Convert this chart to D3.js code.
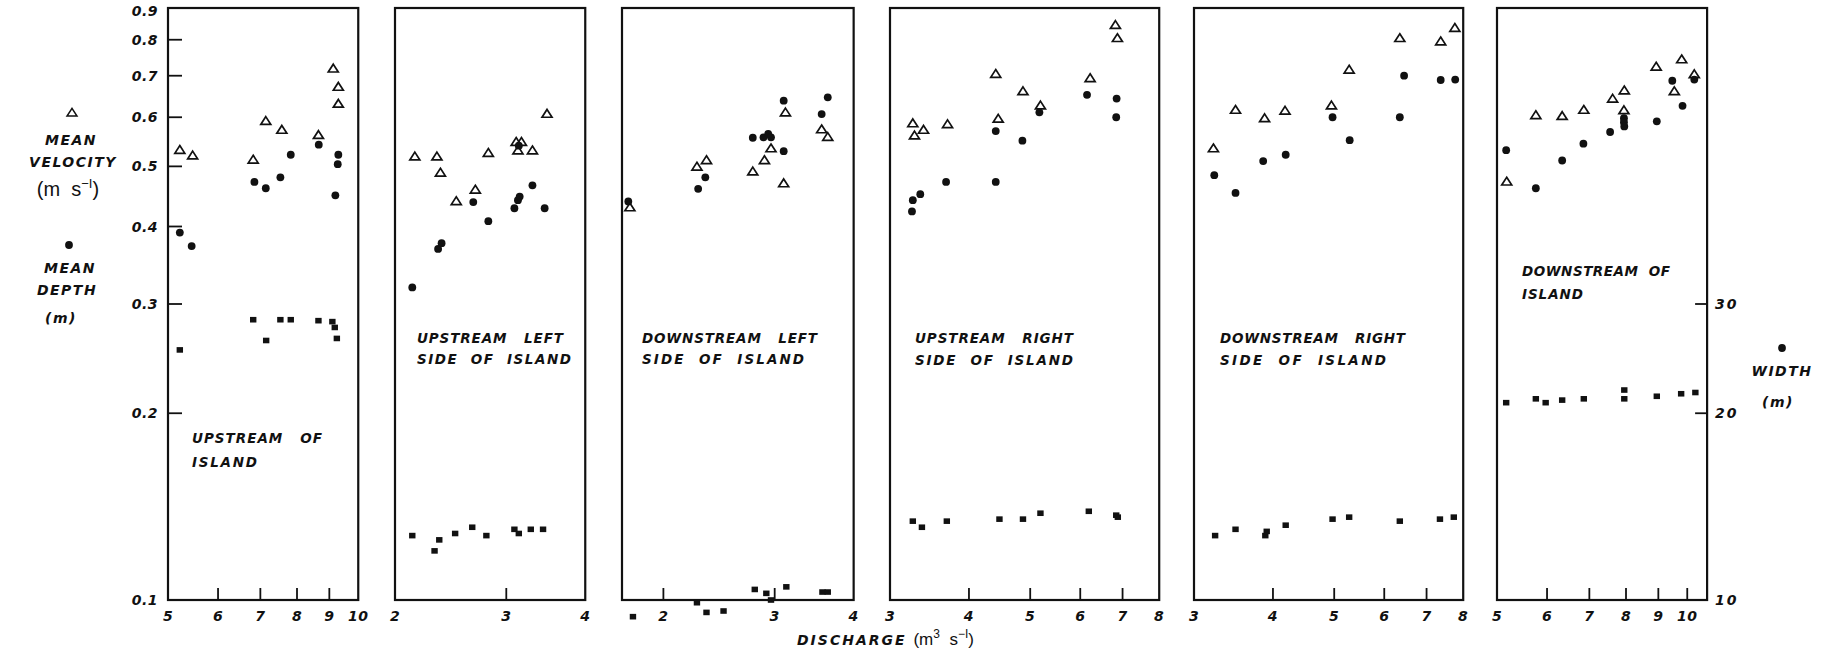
<!DOCTYPE html>
<html>
<head>
<meta charset="utf-8">
<script src="https://cdn.jsdelivr.net/npm/d3@7"></script>
<style>
  body { margin: 0; background: #fff; }
  svg { display: block; }
  text { font-family: "Liberation Sans", Arial, sans-serif; fill: #111; white-space: pre; }
  .lett { font-family: "DejaVu Sans", sans-serif; font-weight: bold; font-style: italic; }
</style>
</head>
<body>
<svg id="chart" width="1842" height="648"></svg>
<script>
// [discharge, value] pairs; width in m
const usVel = [[5.22,0.531],[5.47,0.520],[6.82,0.512],[7.14,0.591],[7.57,0.572],[8.65,0.561],[9.13,0.718],[9.30,0.671],[9.30,0.630]];
const usDep = [[5.22,0.391],[5.45,0.372],[6.85,0.472],[7.14,0.461],[7.53,0.480],[7.82,0.522],[8.66,0.542],[9.30,0.522],[9.28,0.504],[9.20,0.449]];
const usWid = [[5.22,25.3],[6.82,28.3],[7.15,26.2],[7.53,28.3],[7.82,28.3],[8.65,28.2],[9.10,28.1],[9.18,27.5],[9.25,26.4]];

const ulVel = [[2.15,0.518],[2.33,0.518],[2.36,0.488],[2.50,0.439],[2.68,0.458],[2.81,0.525],[3.11,0.547],[3.17,0.547],[3.13,0.530],[3.30,0.530],[3.48,0.607]];
const ulDep = [[2.13,0.319],[2.34,0.368],[2.37,0.376],[2.66,0.438],[2.81,0.408],[3.09,0.428],[3.13,0.441],[3.15,0.447],[3.30,0.466],[3.45,0.428],[3.14,0.540]];
const ulWid = [[2.13,12.7],[2.31,12.0],[2.35,12.5],[2.49,12.8],[2.65,13.1],[2.79,12.7],[3.09,13.0],[3.14,12.8],[3.28,13.0],[3.43,13.0]];

const dlVel = [[1.77,0.429],[2.26,0.499],[2.34,0.511],[2.77,0.490],[2.89,0.511],[2.96,0.534],[3.12,0.610],[3.10,0.469],[3.56,0.573],[3.64,0.557]];
const dlDep = [[1.76,0.439],[2.27,0.460],[2.33,0.480],[2.77,0.556],[2.88,0.557],[2.93,0.564],[2.96,0.557],[3.10,0.638],[3.10,0.529],[3.56,0.607],[3.64,0.646]];
const dlWid = [[1.79,9.4],[2.26,9.9],[2.34,9.55],[2.49,9.6],[2.79,10.4],[2.91,10.25],[2.96,10.0],[3.13,10.5],[3.57,10.3],[3.64,10.3]];

const urVel = [[3.26,0.586],[3.28,0.560],[3.39,0.572],[3.70,0.584],[4.41,0.704],[4.45,0.596],[4.87,0.660],[5.19,0.626],[6.22,0.693],[6.82,0.844],[6.87,0.804]];
const urDep = [[3.25,0.423],[3.26,0.441],[3.35,0.451],[3.68,0.472],[4.41,0.472],[4.41,0.570],[4.86,0.550],[5.17,0.611],[6.15,0.652],[6.85,0.643],[6.84,0.600]];
const urWid = [[3.26,13.4],[3.37,13.1],[3.69,13.4],[4.47,13.5],[4.87,13.5],[5.19,13.8],[6.19,13.9],[6.84,13.7],[6.88,13.6]];

const drVel = [[3.22,0.534],[3.49,0.616],[3.88,0.597],[4.18,0.614],[4.95,0.626],[5.28,0.715],[6.35,0.804],[7.37,0.794],[7.76,0.835]];
const drDep = [[3.23,0.484],[3.49,0.453],[3.86,0.510],[4.19,0.522],[4.97,0.600],[5.29,0.551],[6.35,0.600],[6.45,0.700],[7.37,0.689],[7.77,0.690]];
const drWid = [[3.24,12.7],[3.49,13.0],[3.89,12.7],[3.91,12.9],[4.19,13.2],[4.97,13.5],[5.28,13.6],[6.35,13.4],[7.35,13.5],[7.73,13.6]];

const dsVel = [[5.18,0.472],[5.76,0.604],[6.34,0.602],[6.86,0.616],[7.62,0.642],[7.95,0.662],[7.94,0.615],[8.93,0.723],[9.80,0.743],[9.54,0.660],[10.26,0.703]];
const dsDep = [[5.17,0.531],[5.76,0.461],[6.34,0.511],[6.85,0.544],[7.55,0.568],[7.94,0.598],[7.94,0.589],[7.95,0.580],[8.95,0.591],[9.47,0.687],[9.83,0.626],[10.26,0.690]];
const dsWid = [[5.17,20.8],[5.76,21.1],[5.97,20.8],[6.34,21.0],[6.86,21.1],[7.95,21.8],[7.95,21.1],[8.95,21.3],[9.78,21.5],[10.3,21.6]];

const panelTitles = [
  ["UPSTREAM   OF", "ISLAND"],
  ["UPSTREAM   LEFT", "SIDE  OF  ISLAND"],
  ["DOWNSTREAM   LEFT", "SIDE  OF  ISLAND"],
  ["UPSTREAM   RIGHT", "SIDE  OF  ISLAND"],
  ["DOWNSTREAM   RIGHT", "SIDE  OF  ISLAND"],
  ["DOWNSTREAM  OF", "ISLAND"]
];
const xDomains = [[5, 10], [2, 4], [1.72, 4], [3, 8], [3, 8], [5, 10.75]];
const xTicks = [[5,6,7,8,9,10], [2,3,4], [2,3,4], [3,4,5,6,7,8], [3,4,5,6,7,8], [5,6,7,8,9,10]];
const yTicks = [0.1,0.2,0.3,0.4,0.5,0.6,0.7,0.8,0.9];
const widthTicks = [10, 20, 30];

const velSets = [usVel, ulVel, dlVel, urVel, drVel, dsVel];
const depSets = [usDep, ulDep, dlDep, urDep, drDep, dsDep];
const widSets = [usWid, ulWid, dlWid, urWid, drWid, dsWid];

// layout
const yTop = 8, yBottom = 600;
const decade = 632; // px per log decade along x
const panelLeft = [168, 395, 622, 890, 1194, 1497];
const titleBox = [
  { x: 192, y: [443, 467], len: [130, 65] },
  { x: 417, y: [343, 364], len: [146, 154] },
  { x: 642, y: [343, 364], len: [175, 162] },
  { x: 915, y: [343, 365], len: [158, 158] },
  { x: 1220, y: [343, 365], len: [185, 166] },
  { x: 1522, y: [276, 299], len: [148, 61] }
];

const svg = d3.select("#chart");
const y = d3.scaleLog().domain([0.1, 0.9]).range([yBottom, yTop]);
const yW = d3.scaleLog().domain([10, 90]).range([yBottom, yTop]);

// open triangle, a bit wider than tall like the drafted ones
const wideTri = {
  draw(ctx, size) {
    const w = Math.sqrt(size), h = w * 0.78;
    ctx.moveTo(0, -h * 0.6);
    ctx.lineTo(w / 2, h * 0.4);
    ctx.lineTo(-w / 2, h * 0.4);
    ctx.closePath();
  }
};
const triPath = d3.symbol(wideTri, 100)();

const panels = xDomains.map((dom, i) => {
    const left = panelLeft[i];
    const right = left + decade * Math.log10(dom[1] / dom[0]);
    return { i, x: d3.scaleLog().domain(dom).range([left, right]), left, right };
});

panels.forEach((p) => {
    const g = svg.append("g");
    // frame
    g.append("rect")
        .attr("x", p.left).attr("y", yTop)
        .attr("width", p.right - p.left).attr("height", yBottom - yTop)
        .attr("fill", "none").attr("stroke", "#111").attr("stroke-width", 2.2);
    // bottom ticks, drawn inward
    const ticks = xTicks[p.i];
    g.selectAll("line.xt")
        .data(ticks.filter((t) => t > xDomains[p.i][0] && t < xDomains[p.i][1]))
        .join("line")
        .attr("x1", (d) => p.x(d)).attr("x2", (d) => p.x(d))
        .attr("y1", yBottom).attr("y2", yBottom - 12)
        .attr("stroke", "#111").attr("stroke-width", 1.8);
    g.selectAll("text.xl")
        .data(ticks)
        .join("text")
        .attr("class", "lett")
        .attr("x", (d) => p.x(d))
        .attr("y", 621)
        .attr("text-anchor", "middle")
        .style("font-size", "14px")
        .style("letter-spacing", "0.5px")
        .text((d) => d);
    // panel title
    const tb = titleBox[p.i];
    panelTitles[p.i].forEach((line, k) => {
        g.append("text")
            .attr("class", "lett")
            .attr("x", tb.x).attr("y", tb.y[k])
            .attr("textLength", tb.len[k])
            .attr("lengthAdjust", "spacing")
            .style("font-size", "13.5px")
            .text(line);
    });
    // width (squares)
    g.selectAll("rect.w")
        .data(widSets[p.i])
        .join("rect")
        .attr("x", (d) => p.x(d[0]) - 3.2)
        .attr("y", (d) => yW(d[1]) - 2.8)
        .attr("width", 6.4).attr("height", 5.6)
        .attr("fill", "#111");
    // velocity (open triangles)
    g.selectAll("path.v")
        .data(velSets[p.i])
        .join("path")
        .attr("d", triPath)
        .attr("transform", (d) => `translate(${p.x(d[0])},${y(d[1])})`)
        .attr("fill", "none").attr("stroke", "#111").attr("stroke-width", 1.7);
    // depth (dots)
    g.selectAll("circle.d")
        .data(depSets[p.i])
        .join("circle")
        .attr("cx", (d) => p.x(d[0]))
        .attr("cy", (d) => y(d[1]))
        .attr("r", 3.9)
        .attr("fill", "#111");
});

// left axis: velocity / depth
const p0 = panels[0];
svg.append("g").selectAll("line")
    .data(yTicks.slice(1, -1))
    .join("line")
    .attr("x1", p0.left).attr("x2", p0.left + 14)
    .attr("y1", (d) => y(d)).attr("y2", (d) => y(d))
    .attr("stroke", "#111").attr("stroke-width", 1.8);
svg.append("g").selectAll("text")
    .data(yTicks)
    .join("text")
    .attr("class", "lett")
    .attr("x", 158)
    .attr("y", (d) => Math.max(y(d), 11))
    .attr("dy", "0.36em")
    .attr("text-anchor", "end")
    .style("font-size", "14px")
    .style("letter-spacing", "0.5px")
    .text((d) => d3.format(".1f")(d));

// right axis: width
const p5 = panels[5];
svg.append("g").selectAll("line")
    .data(widthTicks)
    .join("line")
    .attr("x1", p5.right - 12).attr("x2", p5.right)
    .attr("y1", (d) => yW(d)).attr("y2", (d) => yW(d))
    .attr("stroke", "#111").attr("stroke-width", 1.8);
svg.append("g").selectAll("text")
    .data(widthTicks)
    .join("text")
    .attr("class", "lett")
    .attr("x", p5.right + 8)
    .attr("y", (d) => yW(d))
    .attr("dy", "0.36em")
    .style("font-size", "14px")
    .style("letter-spacing", "2px")
    .text((d) => d);

// legends
const leg = svg.append("g");
leg.append("path").attr("d", triPath).attr("transform", "translate(72,113)")
    .attr("fill", "none").attr("stroke", "#111").attr("stroke-width", 1.5);
[["MEAN", 71, 145], ["VELOCITY", 73, 167], ["MEAN", 70, 273], ["DEPTH", 67, 295], ["(m)", 61, 323]].forEach(([t, cx, cy]) => {
    leg.append("text").attr("class", "lett").attr("x", cx).attr("y", cy)
        .attr("text-anchor", "middle").style("font-size", "14px").style("letter-spacing", "1.5px").text(t);
});
const vUnits = leg.append("text").attr("x", 68).attr("y", 196).attr("text-anchor", "middle")
    .style("font-size", "20px");
vUnits.append("tspan").text("(m  s");
vUnits.append("tspan").attr("dy", -8).style("font-size", "13px").text("\u2212I");
vUnits.append("tspan").attr("dy", 8).text(")");
leg.append("circle").attr("cx", 69).attr("cy", 245).attr("r", 3.9).attr("fill", "#111");

leg.append("circle").attr("cx", 1782).attr("cy", 348).attr("r", 3.9).attr("fill", "#111");
leg.append("text").attr("class", "lett").attr("x", 1782).attr("y", 376).attr("text-anchor", "middle")
    .style("font-size", "14px").style("letter-spacing", "1.5px").text("WIDTH");
leg.append("text").attr("class", "lett").attr("x", 1778).attr("y", 407).attr("text-anchor", "middle")
    .style("font-size", "14px").style("letter-spacing", "1.5px").text("(m)");

// x-axis title
const xt = svg.append("text").attr("x", 797).attr("y", 645).style("font-size", "17px");
xt.append("tspan").attr("class", "lett").style("font-size", "14px").style("letter-spacing", "2px").text("DISCHARGE ");
xt.append("tspan").text("(m");
xt.append("tspan").attr("dy", -7).style("font-size", "12px").text("3");
xt.append("tspan").attr("dy", 7).text("  s");
xt.append("tspan").attr("dy", -7).style("font-size", "12px").text("\u2212I");
xt.append("tspan").attr("dy", 7).text(")");
</script>
</body>
</html>
